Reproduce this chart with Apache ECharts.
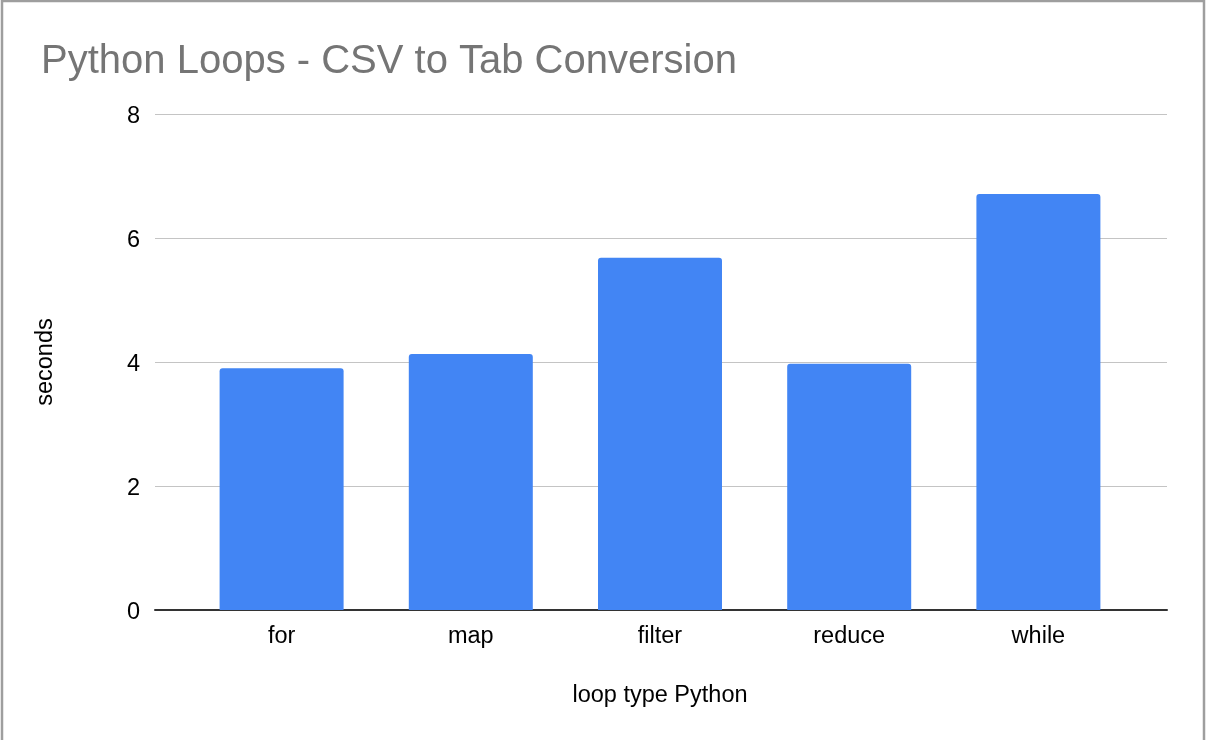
<!DOCTYPE html>
<html>
<head>
<meta charset="utf-8">
<script src="https://cdn.jsdelivr.net/npm/echarts@6/dist/echarts.min.js"></script>
<style>
html,body{margin:0;padding:0;background:#fff;}
#c{width:1208px;height:740px;}
</style>
</head>
<body>
<div id="c"></div>
<script>
const categories = ['for', 'map', 'filter', 'reduce', 'while'];
const seconds = [3.90, 4.13, 5.68, 3.97, 6.71];
const yTicks = [0, 2, 4, 6, 8];

const FONT = '"Liberation Sans", Arial, Helvetica, sans-serif';
const LABEL = 23.5;
const chart = echarts.init(document.getElementById('c'), null, {renderer: 'canvas'});
chart.setOption({
  backgroundColor: '#ffffff',
  animation: false,
  textStyle: {fontFamily: FONT},
  title: {
    text: 'Python Loops - CSV to Tab Conversion',
    left: 36, top: 37,
    textStyle: {fontFamily: FONT, fontSize: 40, fontWeight: 'normal', color: '#757575'}
  },
  graphic: [{
    type: 'rect', silent: true, z: 100,
    shape: {x: 2, y: 1, width: 1202, height: 760},
    style: {fill: 'none', stroke: '#9e9e9e', lineWidth: 2.5}
  }],
  grid: [
    {left: 155, right: 41, top: 114, bottom: 130},
    {left: 187, right: 75, top: 114, bottom: 130}
  ],
  xAxis: [
    {gridIndex: 0, type: 'value', min: 0, max: 1,
     axisLine: {show: true, onZero: false, lineStyle: {color: '#333333', width: 2}},
     axisTick: {show: false}, axisLabel: {show: false}, splitLine: {show: false}},
    {gridIndex: 1, type: 'category', data: categories,
     axisLine: {show: false}, axisTick: {show: false},
     axisLabel: {margin: 15, fontSize: LABEL, color: '#000', fontFamily: FONT},
     name: 'loop type Python', nameLocation: 'middle', nameGap: 74,
     nameTextStyle: {fontSize: LABEL, color: '#000', fontFamily: FONT}}
  ],
  yAxis: [
    {gridIndex: 0, type: 'value', min: 0, max: 8, interval: 2,
     axisLine: {show: false}, axisTick: {show: false},
     axisLabel: {margin: 15, color: '#000', fontFamily: FONT,
       formatter: v => yTicks.includes(v) ? '{v|' + v + '}' : '',
       rich: {v: {fontSize: LABEL, color: '#000', fontFamily: FONT, padding: [6, 0, 0, 0]}}},
     splitLine: {show: true, lineStyle: {color: '#c4c4c4', width: 1.2}},
     name: 'seconds', nameLocation: 'middle', nameGap: 97, nameRotate: 90,
     nameTextStyle: {fontSize: LABEL, color: '#000', fontFamily: FONT}},
    {gridIndex: 1, type: 'value', min: 0, max: 8, show: false}
  ],
  series: [{
    type: 'bar', xAxisIndex: 1, yAxisIndex: 1,
    data: seconds, barWidth: 124,
    itemStyle: {color: '#4285F4', borderRadius: [3, 3, 0, 0]}
  }]
});
</script>
</body>
</html>
